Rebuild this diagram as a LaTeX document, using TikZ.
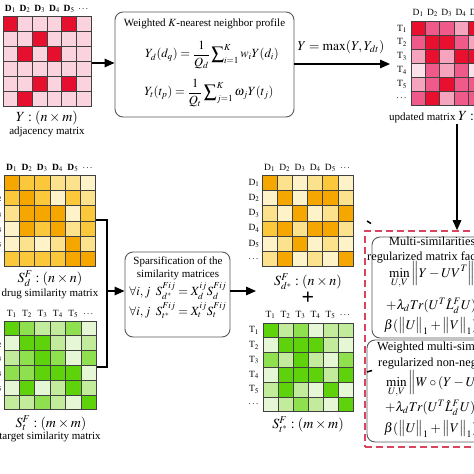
\documentclass[tikz,border=0pt]{standalone}
\usepackage{amsmath}
\usepackage{mathptmx}
\usepackage{fontspec}
\setmainfont{Liberation Serif}
\usetikzlibrary{arrows.meta}
\definecolor{rd0}{HTML}{FBD3DF}
\definecolor{rd3}{HTML}{E6102E}
\definecolor{pk0}{HTML}{FCE0EA}
\definecolor{pk1}{HTML}{F6A3BE}
\definecolor{pk2}{HTML}{EF5A8A}
\definecolor{pk3}{HTML}{E8102E}
\definecolor{or0}{HTML}{FEF2C8}
\definecolor{or1}{HTML}{FDE28E}
\definecolor{or2}{HTML}{FBC83C}
\definecolor{or3}{HTML}{F5A700}
\definecolor{gr0}{HTML}{E5F7D5}
\definecolor{gr1}{HTML}{C2EC9C}
\definecolor{gr2}{HTML}{8FE04E}
\definecolor{gr3}{HTML}{5ED20A}
\definecolor{dashred}{HTML}{D9455F}
\newcommand{\mymat}[6]{%
  \foreach \rr [count=\r from 0] in {#6}{%
    \foreach \vv [count=\c from 0] in \rr {%
      \filldraw[cell, fill=#5\vv] ({#1+\c*#3},{#2+\r*#4}) rectangle ++(#3,#4);
    }}}
\newcommand{\fs}[1]{\fontsize{#1}{#1}\selectfont}
\begin{document}
\begin{tikzpicture}[x=1pt,y=-1pt,font=\fs{11},
  cell/.style={draw=black!75, line width=0.7pt},
  box/.style={draw=black!65, rounded corners=8pt, line width=0.9pt},
  dbox/.style={draw=dashred, dashed, dash pattern=on 7pt off 4pt, line width=1.6pt},
  arr/.style={line width=1.5pt, -{Triangle[length=10pt,width=8.5pt]}},
  brk/.style={line width=1.6pt},
  hd/.style={inner sep=0pt, font=\fs{9.5}},
  hdb/.style={inner sep=0pt, font=\fs{9.5}\bfseries},
  lbl/.style={inner sep=0pt},
  rt/.style={inner sep=0pt, anchor=west, font=\fs{12.3}},
  big/.style={inner sep=0pt, font=\fs{14}},
  eqr/.style={inner sep=0pt, anchor=west, font=\fs{13.3}}]
\useasboundingbox (0,0) rectangle (474,474);
\clip (0,0) rectangle (474,474);
\fill[white] (0,0) rectangle (474,474);

% adjacency matrix
\mymat{3}{16}{14.7}{15.1}{rd}{{3,0,0,0,3,0},{0,0,3,0,0,0},{0,3,0,3,0,0},{0,0,0,0,0,0},{0,0,3,0,3,0},{0,3,0,0,0,0}}
\foreach \lab [count=\c from 0] in {D$_1$,D$_2$,D$_3$,D$_4$,D$_5$,$\cdots$}
  \node[hdb] (adjh\c) at ({3+(\c+0.5)*14.7},9) {\lab};
\node[big] (adjY) at (47,118) {$Y:(n\times m)$};
\node[lbl] (adjT) at (47,132) {adjacency matrix};
\coordinate (adjR) at (92,63);

% KNN box
\node[box, minimum width=179pt, minimum height=105pt] (knn) at (204.5,64.5) {};
\node[lbl] (knnT) at (204.5,24) {Weighted $K$-nearest neighbor profile};
\node[lbl, font=\fs{12.5}] (eq1) at (212,55) {$Y_d(d_q)=\displaystyle\frac{1}{Q_d}\sum\nolimits_{i=1}^{K} w_i Y(d_i)$};
\node[lbl, font=\fs{12.5}] (eq2) at (209,93) {$Y_t(t_p)=\displaystyle\frac{1}{Q_t}\sum\nolimits_{j=1}^{K} \omega_j Y(t_j)$};
\draw[arr] (adjR) -- (adjR -| knn.west);

% updated matrix
\mymat{411}{21.7}{14.3}{13.9}{pk}{{3,2,2,1,3,1},{2,3,3,2,1,2},{1,3,1,3,3,1},{0,2,1,2,0,2},{1,2,3,2,2,1},{2,3,1,2,2,3}}
\foreach \lab [count=\c from 0] in {D$_1$,D$_2$,D$_3$,D$_4$,D$_5$,$\cdots$}
  \node[hd] (uph\c) at ({411+(\c+0.5)*14.3},13) {\lab};
\foreach \lab [count=\c from 0] in {T$_1$,T$_2$,T$_3$,T$_4$,T$_5$,$\cdots$}
  \node[hd] (upr\c) at (402,{21.7+(\c+0.5)*13.9}) {\lab};
\node[lbl, anchor=west] (upT) at (389,117) {updated matrix \fs{14}$Y:(n\times m)$};
\coordinate (upL) at (390,64);
\node[lbl, font=\fs{13.5}] (maxT) at (341,47) {$Y=\max(Y,Y_{dt})$};
\draw[arr] (upL -| knn.east) -- (upL);

% drug similarity
\mymat{4}{175}{15.3}{15.3}{or}{{3,2,2,1,1,0},{2,3,2,0,2,1},{1,3,3,3,0,2},{0,3,2,3,1,2},{0,1,0,1,3,1},{2,2,2,2,3,3}}
\foreach \lab [count=\c from 0] in {D$_1$,D$_2$,D$_3$,D$_4$,D$_5$,$\cdots$}
  \node[hdb] (drh\c) at ({4+(\c+0.5)*15.3},168) {\lab};
\foreach \lab [count=\c from 0] in {D$_1$,D$_2$,D$_3$,D$_4$,D$_5$}
  \node[hdb, anchor=east] (drr\c) at (2,{175+(\c+0.5)*15.3}) {\lab};
\node[big] (drS) at (50,279) {$S^{F}_{d}:(n\times n)$};
\node[lbl] (drT) at (50,294) {drug similarity matrix};
\coordinate (drR) at (96,220);

% target similarity
\mymat{4}{321}{15.4}{14.8}{gr}{{3,2,1,1,2,0},{0,3,3,1,0,1},{1,2,3,2,0,2},{2,2,3,3,3,0},{0,3,0,1,3,1},{1,1,2,1,0,3}}
\foreach \lab [count=\c from 0] in {T$_1$,T$_2$,T$_3$,T$_4$,T$_5$,$\cdots$}
  \node[hd] (tgh\c) at ({4+(\c+0.5)*15.4},314) {\lab};
\foreach \lab [count=\c from 0] in {T$_1$,T$_2$,T$_3$,T$_4$,T$_5$}
  \node[hdb, anchor=east] (tgr\c) at (2,{321+(\c+0.5)*14.8}) {\lab};
\node[big] (tgS) at (51,423) {$S^{F}_{t}:(m\times m)$};
\node[lbl] (tgT) at (50,437) {target similarity matrix};
\coordinate (tgR) at (97,367);
\draw[brk] (drR) -- ++(11,0) |- (tgR);
\coordinate (brkM) at (107,291);

% sparsification box
\node[box, minimum width=105pt, minimum height=85pt] (sp) at (177.5,294.5) {};
\node[lbl] (spT1) at (178,262) {Sparsification of the};
\node[lbl] (spT2) at (178,275) {similarity matrices};
\node[lbl, font=\fs{12.5}] (spE1) at (178,291) {$\forall i,j\;\; S^{Fij}_{d^*}=X^{ij}_{d}S^{Fij}_{d}$};
\node[lbl, font=\fs{12.5}] (spE2) at (178,311) {$\forall i,j\;\; S^{Fij}_{t^*}=X^{ij}_{t}S^{Fij}_{t}$};
\draw[arr] (brkM) -- (brkM -| sp.west);
\coordinate (sdL) at (256,291);
\draw[arr] (sdL -| sp.east) -- (sdL);

% Sd* matrix
\mymat{262}{175}{15.2}{15.3}{or}{{3,1,0,1,2,0},{0,3,0,3,3,1},{1,0,3,0,1,3},{2,3,1,3,3,1},{0,1,3,0,1,0},{1,3,0,1,0,3}}
\foreach \lab [count=\c from 0] in {D$_1$,D$_2$,D$_3$,D$_4$,D$_5$,$\cdots$}
  \node[hd] (sdh\c) at ({262+(\c+0.5)*15.2},168) {\lab};
\foreach \lab [count=\c from 0] in {D$_1$,D$_2$,D$_3$,D$_4$,D$_5$,$\cdots$}
  \node[hd] (sdr\c) at (254,{175+(\c+0.5)*15.3}) {\lab};
\node[big] (sdS) at (308,282) {$S^{F}_{d^*}:(n\times n)$};
\node[lbl, font=\fs{22}\bfseries] (plus) at (308,298) {+};

% St* matrix
\mymat{263}{323}{15}{14.8}{gr}{{3,1,2,0,1,1},{0,3,3,3,1,0},{2,1,3,1,0,2},{0,3,3,3,1,3},{1,3,1,0,3,0},{0,1,2,1,0,3}}
\foreach \lab [count=\c from 0] in {T$_1$,T$_2$,T$_3$,T$_4$,T$_5$,$\cdots$}
  \node[hd] (sth\c) at ({263+(\c+0.5)*15},315) {\lab};
\foreach \lab [count=\c from 0] in {T$_1$,T$_2$,T$_3$,T$_4$,T$_5$,$\cdots$}
  \node[hd] (str\c) at (254,{323+(\c+0.5)*14.8}) {\lab};
\node[big] (stS) at (308,425) {$S^{F}_{t^*}:(m\times m)$};

% optimisation boxes
\node[dbox, minimum width=170pt, minimum height=216pt] (opt) at (450,339) {};
\coordinate (upB) at (457,124);
\draw[arr] (upB) -- (upB |- opt.north);
\node[box, minimum width=170pt, minimum height=101pt] (b1) at (457,287.5) {};
\node[box, minimum width=175pt, minimum height=102pt] (b2) at (454.5,391) {};
\node[rt] (b1t1) at (389,243) {Multi-similarities graph};
\node[rt] (b1t2) at (367,257) {regularized matrix factorization};
\node[eqr] (b1e1) at (389,274) {$\displaystyle\min_{U,V}\Big\|Y-UV^{T}\Big\|_F^2$};
\node[eqr] (b1e2) at (386,306) {$+\lambda_d Tr(U^{T}\hat{L}^{F}_{d}U)+\lambda_t Tr(V^{T}\hat{L}^{F}_{t}V)+$};
\node[eqr] (b1e3) at (384,326) {$\beta(\big\|U\big\|_1+\big\|V\big\|_1)$};
\node[rt] (b2t1) at (377,348) {Weighted multi-similarities graph};
\node[rt] (b2t2) at (378,363) {regularized non-negative matrix factorization};
\node[eqr] (b2e1) at (386,383) {$\displaystyle\min_{U,V}\Big\|W\circ(Y-UV^{T})\Big\|_F^2$};
\node[eqr] (b2e2) at (385,408) {$+\lambda_d Tr(U^{T}\hat{L}^{F}_{d}U)+\lambda_t Tr(V^{T}\hat{L}^{F}_{t}V)+$};
\node[eqr] (b2e3) at (384,429) {$\beta(\big\|U\big\|_1+\big\|V\big\|_1)$};
\draw[line width=1.5pt] (367,221) -- (371,223.5);
\draw[line width=1.5pt] (367,372) -- (372,370.5);
\end{tikzpicture}
\end{document}
